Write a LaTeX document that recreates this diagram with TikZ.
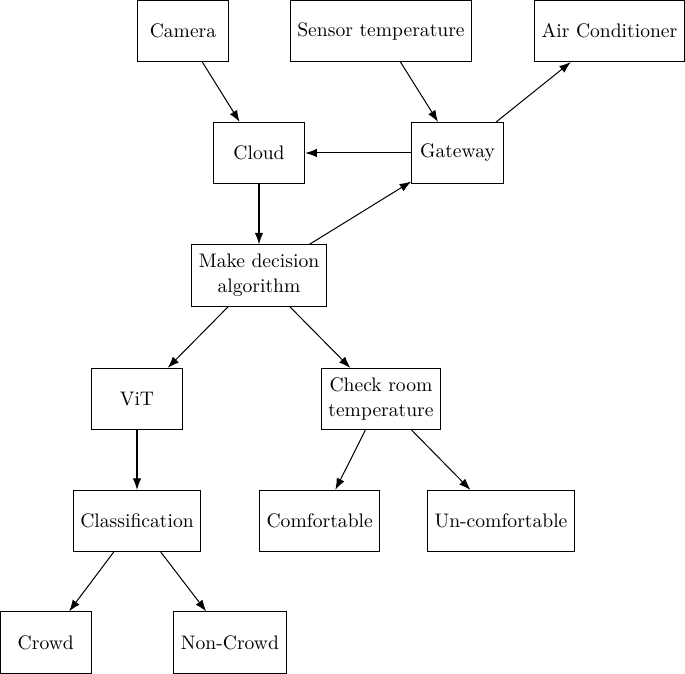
\documentclass[tikz,border=0pt]{standalone}
\usetikzlibrary{arrows.meta}
\begin{document}
\begin{tikzpicture}[x=0.546pt,y=-0.546pt,
  box/.style={draw,line width=0.55pt,rectangle,minimum height=33.4pt,minimum width=50pt,
    align=center,inner xsep=3.9pt,inner ysep=2pt,font=\fontsize{10.7}{13.6}\selectfont},
  conn/.style={-{Latex[length=6.3pt,width=4.6pt]},line width=0.55pt}]
\useasboundingbox (0,0) rectangle (685,674);
\node[box] (cam) at (183,31) {Camera};
\node[box] (sen) at (381,31) {Sensor temperature};
\node[box] (ac) at (609.5,31) {Air Conditioner};
\node[box] (cloud) at (259,153) {Cloud};
\node[box] (gw) at (457.5,153) {Gateway};
\node[box] (mk) at (259,275.5) {Make decision\\algorithm};
\node[box] (vit) at (137,399) {ViT};
\node[box] (chk) at (381,399) {Check room\\temperature};
\node[box] (cls) at (137,521) {Classification};
\node[box] (com) at (319.7,521) {Comfortable};
\node[box] (unc) at (501,521) {Un-comfortable};
\node[box] (crowd) at (45.8,642.5) {Crowd};
\node[box] (ncrowd) at (230,642.5) {Non-Crowd};
\draw[conn] (cam) -- (cloud);
\draw[conn] (sen) -- (gw);
\draw[conn] (gw) -- (ac);
\draw[conn] (gw) -- (cloud);
\draw[conn] (cloud) -- (mk);
\draw[conn] (mk) -- (gw);
\draw[conn] (mk) -- (vit);
\draw[conn] (mk) -- (chk);
\draw[conn] (vit) -- (cls);
\draw[conn] (chk) -- (com);
\draw[conn] (chk) -- (unc);
\draw[conn] (cls) -- (crowd);
\draw[conn] (cls) -- (ncrowd);
\end{tikzpicture}
\end{document}
